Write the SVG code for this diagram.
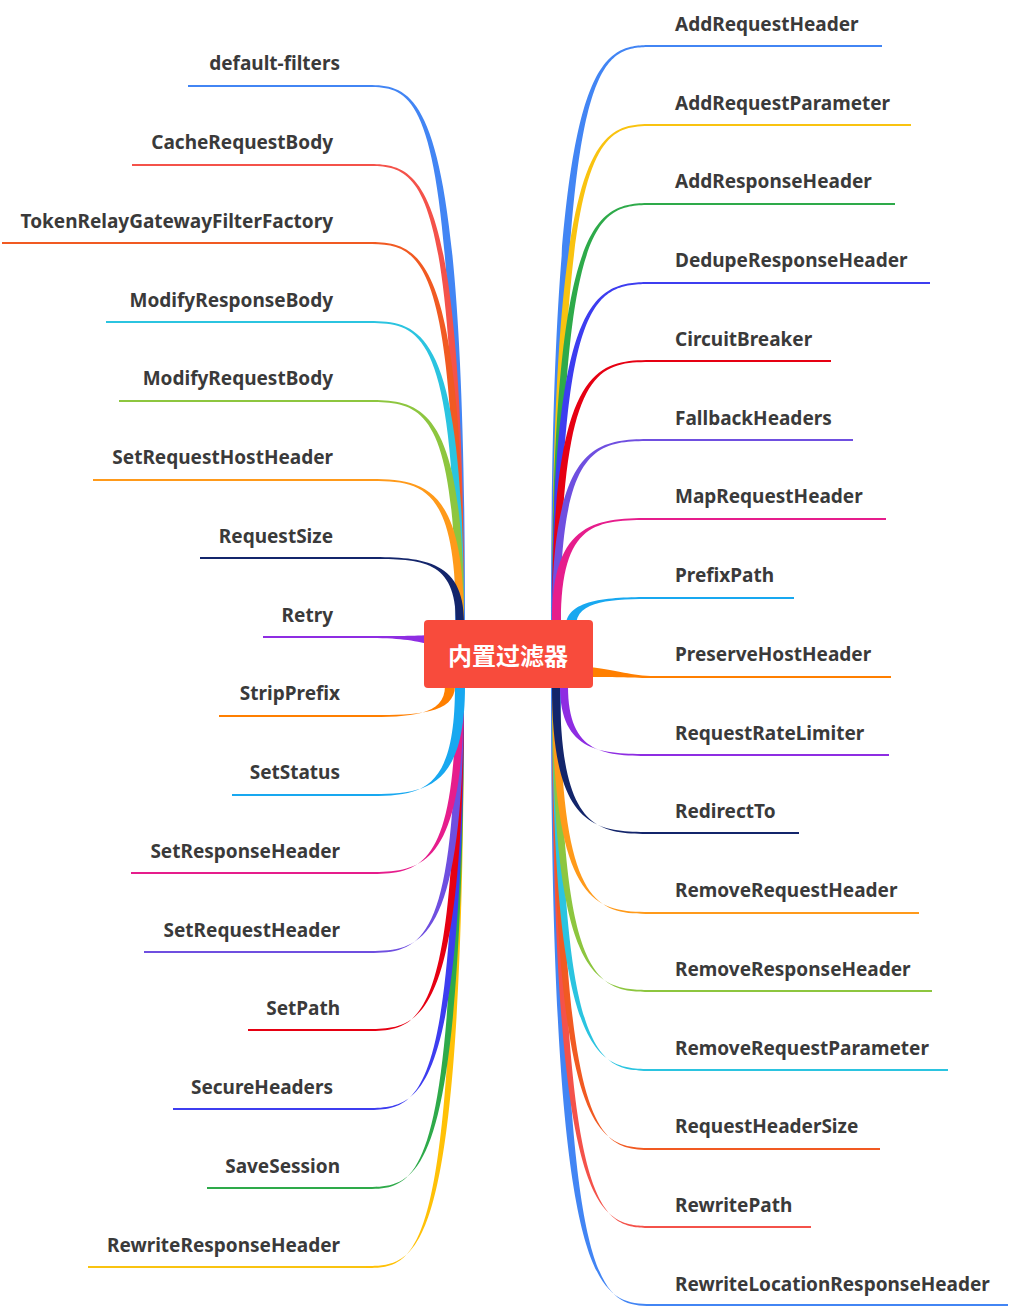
<svg xmlns="http://www.w3.org/2000/svg" width="1011" height="1308" viewBox="0 0 1011 1308">
<style>
text{font-family:"Noto Sans","Liberation Sans",sans-serif;font-weight:700;font-size:19px;fill:#3a3a3a}
.l{text-anchor:end}
.u{stroke-width:2;fill:none}
</style>
<rect width="1011" height="1308" fill="#fff"/>
<g id="connectors">
<path fill="#4285F4" d="M365,85 C420,85 465,86 465,622 L455,622 C455,86 420,87 365,87Z"/><line class="u" stroke="#4285F4" x1="188" y1="86" x2="366" y2="86"/>
<path fill="#F4524A" d="M365,164 C420,164 464,165 464,622 L456,622 C456,165 420,166 365,166Z"/><line class="u" stroke="#F4524A" x1="132" y1="165" x2="366" y2="165"/>
<path fill="#F15A22" d="M365,242 C420,242 464,243 464,622 L456,622 C456,243 420,244 365,244Z"/><line class="u" stroke="#F15A22" x1="2" y1="243" x2="366" y2="243"/>
<path fill="#2BC4E0" d="M365,321 C420,321 464,322 464,622 L456,622 C456,322 420,323 365,323Z"/><line class="u" stroke="#2BC4E0" x1="106" y1="322" x2="366" y2="322"/>
<path fill="#8DC63F" d="M365,400 C420,400 464,401 464,622 L456,622 C456,401 420,402 365,402Z"/><line class="u" stroke="#8DC63F" x1="119" y1="401" x2="366" y2="401"/>
<path fill="#FF9A1A" d="M365,479 C420,479 464,480 464,622 L456,622 C456,480 420,481 365,481Z"/><line class="u" stroke="#FF9A1A" x1="93" y1="480" x2="366" y2="480"/>
<path fill="#13256B" d="M365,557 C420,557 464,558 464,622 L456,622 C456,558 420,559 365,559Z"/><line class="u" stroke="#13256B" x1="200" y1="558" x2="366" y2="558"/>
<path fill="#8E2DE2" d="M365,636 C400,636 412,636 432,635 L432,645 C412,640 400,638 365,638Z"/><line class="u" stroke="#8E2DE2" x1="263" y1="637" x2="366" y2="637"/>
<path fill="#FFC107" d="M365,1266 C420,1266 464,1267 464,686 L456,686 C456,1267 420,1268 365,1268Z"/><line class="u" stroke="#F9C310" x1="88" y1="1267" x2="366" y2="1267"/>
<path fill="#2EAA4A" d="M365,1187 C420,1187 464,1188 464,686 L456,686 C456,1188 420,1189 365,1189Z"/><line class="u" stroke="#2EAA4A" x1="207" y1="1188" x2="366" y2="1188"/>
<path fill="#3D3DF0" d="M365,1108 C420,1108 464,1109 464,686 L456,686 C456,1109 420,1110 365,1110Z"/><line class="u" stroke="#3D3DF0" x1="173" y1="1109" x2="366" y2="1109"/>
<path fill="#E60012" d="M365,1029 C420,1029 464,1030 464,686 L456,686 C456,1030 420,1031 365,1031Z"/><line class="u" stroke="#E60012" x1="248" y1="1030" x2="366" y2="1030"/>
<path fill="#6F4FE0" d="M365,951 C420,951 464,952 464,686 L456,686 C456,952 420,953 365,953Z"/><line class="u" stroke="#6F4FE0" x1="144" y1="952" x2="366" y2="952"/>
<path fill="#E61D8C" d="M365,872 C420,872 464,873 464,686 L456,686 C456,873 420,874 365,874Z"/><line class="u" stroke="#E61D8C" x1="131" y1="873" x2="366" y2="873"/>
<path fill="#18A8F0" d="M365,794 C420,794 465,795 465,686 L455,686 C455,795 420,796 365,796Z"/><line class="u" stroke="#18A8F0" x1="232" y1="795" x2="366" y2="795"/>
<path fill="#FF7F00" d="M365,715 C410,715 455,716 455,686 L445,686 C445,716 410,717 365,717Z"/><line class="u" stroke="#FF7F00" x1="219" y1="716" x2="366" y2="716"/>
<path fill="#4285F4" d="M655,45 C598,45 551,46 551,622 L561,622 C561,46 598,47 655,47Z"/><line class="u" stroke="#4285F4" x1="654" y1="46" x2="882" y2="46"/>
<path fill="#F9C310" d="M655,124 C598,124 552,125 552,622 L560,622 C560,125 598,126 655,126Z"/><line class="u" stroke="#F9C310" x1="654" y1="125" x2="911" y2="125"/>
<path fill="#2EAA4A" d="M655,203 C598,203 552,204 552,622 L560,622 C560,204 598,205 655,205Z"/><line class="u" stroke="#2EAA4A" x1="654" y1="204" x2="895" y2="204"/>
<path fill="#3D3DF0" d="M655,282 C598,282 552,283 552,622 L560,622 C560,283 598,284 655,284Z"/><line class="u" stroke="#3D3DF0" x1="654" y1="283" x2="930" y2="283"/>
<path fill="#E60012" d="M655,360 C598,360 552,361 552,622 L560,622 C560,361 598,362 655,362Z"/><line class="u" stroke="#E60012" x1="654" y1="361" x2="831" y2="361"/>
<path fill="#6F4FE0" d="M655,439 C598,439 552,440 552,622 L560,622 C560,440 598,441 655,441Z"/><line class="u" stroke="#6F4FE0" x1="654" y1="440" x2="853" y2="440"/>
<path fill="#E61D8C" d="M655,518 C598,518 552,519 552,622 L561,622 C561,519 598,520 655,520Z"/><line class="u" stroke="#E61D8C" x1="654" y1="519" x2="886" y2="519"/>
<path fill="#18A8F0" d="M655,597 C613,597 566,598 566,626 L576,626 C576,600 613,599 655,599Z"/><line class="u" stroke="#18A8F0" x1="654" y1="598" x2="794" y2="598"/>
<path fill="#FF7F00" d="M588,667 C620,670 630,676 655,676 L655,678 C630,678 620,677 588,677Z"/><line class="u" stroke="#FF7F00" x1="654" y1="677" x2="891" y2="677"/>
<path fill="#4285F4" d="M655,1304 C598,1304 551,1305 551,686 L561,686 C561,1305 598,1306 655,1306Z"/><line class="u" stroke="#4285F4" x1="654" y1="1305" x2="1008" y2="1305"/>
<path fill="#F4524A" d="M655,1226 C598,1226 552,1227 552,686 L560,686 C560,1227 598,1228 655,1228Z"/><line class="u" stroke="#F4524A" x1="654" y1="1227" x2="811" y2="1227"/>
<path fill="#F15A22" d="M655,1148 C598,1148 552,1149 552,686 L560,686 C560,1149 598,1150 655,1150Z"/><line class="u" stroke="#F15A22" x1="654" y1="1149" x2="880" y2="1149"/>
<path fill="#2BC4E0" d="M655,1069 C598,1069 552,1070 552,686 L560,686 C560,1070 598,1071 655,1071Z"/><line class="u" stroke="#2BC4E0" x1="654" y1="1070" x2="948" y2="1070"/>
<path fill="#8DC63F" d="M655,990 C598,990 552,991 552,686 L560,686 C560,991 598,992 655,992Z"/><line class="u" stroke="#8DC63F" x1="654" y1="991" x2="932" y2="991"/>
<path fill="#FF9A1A" d="M655,912 C598,912 552,913 552,686 L560,686 C560,913 598,914 655,914Z"/><line class="u" stroke="#FF9A1A" x1="654" y1="913" x2="919" y2="913"/>
<path fill="#13256B" d="M655,832 C598,832 552,833 552,686 L560,686 C560,833 598,834 655,834Z"/><line class="u" stroke="#13256B" x1="654" y1="833" x2="799" y2="833"/>
<path fill="#8E2DE2" d="M655,754 C605,754 560,755 560,686 L568,686 C568,755 605,756 655,756Z"/><line class="u" stroke="#8E2DE2" x1="654" y1="755" x2="889" y2="755"/>
</g>
<g id="root">
<rect x="424" y="620" width="169" height="68" rx="4" fill="#F84B3C"/>
<text x="508" y="665" text-anchor="middle" style="font-family:'Noto Sans CJK SC',sans-serif;font-size:24px;fill:#fff">内置过滤器</text>
</g>
<g id="left-nodes">
<text class="l" x="340" y="70">default-filters</text>
<text class="l" x="333" y="149">CacheRequestBody</text>
<text class="l" x="333" y="228">TokenRelayGatewayFilterFactory</text>
<text class="l" x="333" y="307">ModifyResponseBody</text>
<text class="l" x="333" y="385">ModifyRequestBody</text>
<text class="l" x="333" y="464">SetRequestHostHeader</text>
<text class="l" x="333" y="543">RequestSize</text>
<text class="l" x="333" y="622">Retry</text>
<text class="l" x="340" y="700">StripPrefix</text>
<text class="l" x="340" y="779">SetStatus</text>
<text class="l" x="340" y="858">SetResponseHeader</text>
<text class="l" x="340" y="937">SetRequestHeader</text>
<text class="l" x="340" y="1015">SetPath</text>
<text class="l" x="333" y="1094">SecureHeaders</text>
<text class="l" x="340" y="1173">SaveSession</text>
<text class="l" x="340" y="1252">RewriteResponseHeader</text>
</g>
<g id="right-nodes">
<text x="675" y="31">AddRequestHeader</text>
<text x="675" y="110">AddRequestParameter</text>
<text x="675" y="188">AddResponseHeader</text>
<text x="675" y="267">DedupeResponseHeader</text>
<text x="675" y="346">CircuitBreaker</text>
<text x="675" y="425">FallbackHeaders</text>
<text x="675" y="503">MapRequestHeader</text>
<text x="675" y="582">PrefixPath</text>
<text x="675" y="661">PreserveHostHeader</text>
<text x="675" y="740">RequestRateLimiter</text>
<text x="675" y="818">RedirectTo</text>
<text x="675" y="897">RemoveRequestHeader</text>
<text x="675" y="976">RemoveResponseHeader</text>
<text x="675" y="1055">RemoveRequestParameter</text>
<text x="675" y="1133">RequestHeaderSize</text>
<text x="675" y="1212">RewritePath</text>
<text x="675" y="1291">RewriteLocationResponseHeader</text>
</g>
</svg>
